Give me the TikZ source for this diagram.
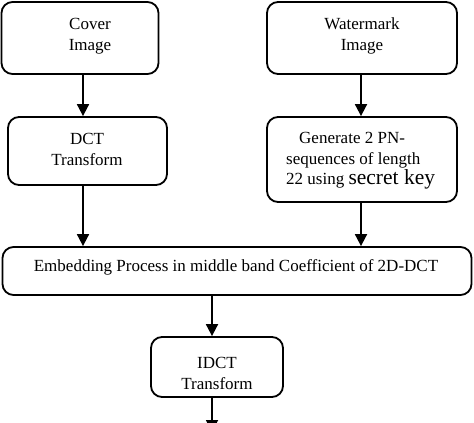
\documentclass[tikz,border=0pt]{standalone}
\usepackage{fontspec}
\setmainfont{Liberation Serif}
\usetikzlibrary{arrows.meta}
\tikzset{
  box/.style={draw, line width=1.8pt, rounded corners=11pt, fill=white, inner sep=0pt},
  txt/.style={align=center, inner sep=0pt, font=\fontsize{17}{21}\selectfont},
  conn/.style={line width=1.8pt, -{Triangle[width=12pt,length=12pt]}}
}
\begin{document}
\begin{tikzpicture}[x=1pt,y=-1pt]
\useasboundingbox (0,0) rectangle (474,423);
\fill[white] (0,0) rectangle (474,423);
% boxes
\node[box, minimum width=157pt, minimum height=72pt] (cover) at (80,38) {};
\node[box, minimum width=190pt, minimum height=72pt] (wm) at (362,38) {};
\node[box, minimum width=159pt, minimum height=68pt] (dct) at (87.5,151) {};
\node[box, minimum width=190pt, minimum height=85pt] (gen) at (362,159.5) {};
\node[box, minimum width=469pt, minimum height=48pt] (emb) at (237,271) {};
\node[box, minimum width=132pt, minimum height=60pt] (idct) at (217,367) {};
% texts
\node[txt] (covert) at (90,36) {Cover\\Image};
\node[txt] (wmt) at (362,36) {Watermark\\Image};
\node[txt] (dctt) at (87,149) {DCT\\Transform};
\node[txt, align=left, anchor=west, font=\fontsize{17}{20.5}\selectfont] (gent) at (286,161)
  {\hspace*{13pt}Generate 2 PN-\\sequences of length\\22 using {\fontsize{21.5}{21}\selectfont secret key}};
\node[txt] (embt) at (236,267) {Embedding Process in middle band Coefficient of 2D-DCT};
\node[txt] (idctt) at (217,373) {IDCT\\Transform};
% columns
\coordinate (colA) at (83,0);
\coordinate (colB) at (361,0);
\coordinate (colC) at (212,0);
\coordinate (outend) at (212,432);
% connectors
\draw[conn] (cover.south -| colA) -- (dct.north -| colA);
\draw[conn] (wm.south -| colB) -- (gen.north -| colB);
\draw[conn] (dct.south -| colA) -- (emb.north -| colA);
\draw[conn] (gen.south -| colB) -- (emb.north -| colB);
\draw[conn] (emb.south -| colC) -- (idct.north -| colC);
\draw[conn] (idct.south -| colC) -- (outend);
\end{tikzpicture}
\end{document}
